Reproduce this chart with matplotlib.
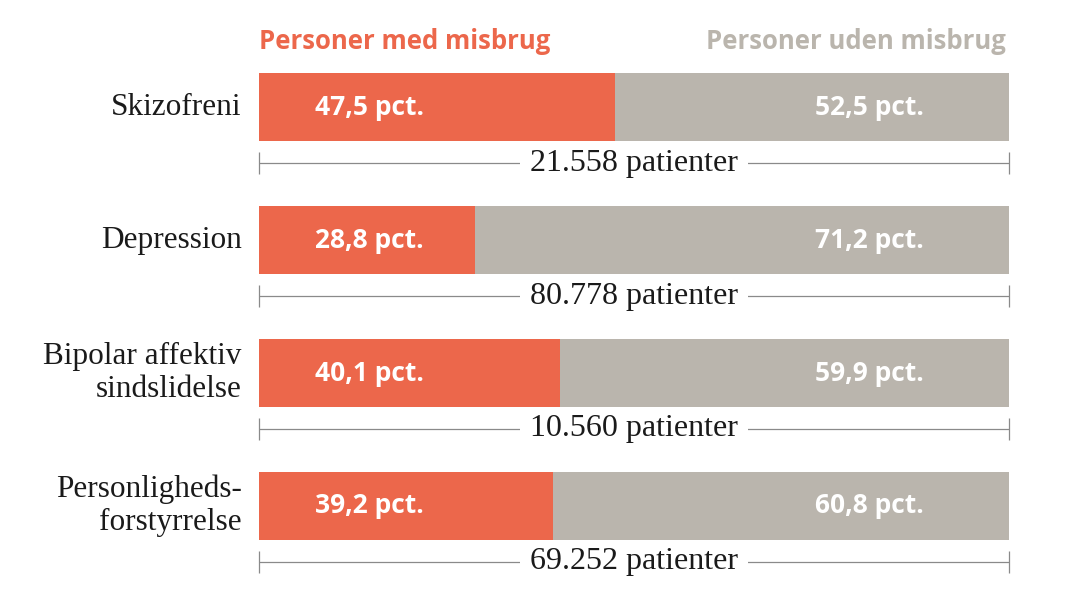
import matplotlib.pyplot as plt

categories = ['Skizofreni', 'Depression', 'Bipolar affektiv\nsindslidelse',
              'Personligheds-\nforstyrrelse']
with_abuse = [47.5, 28.8, 40.1, 39.2]
without_abuse = [52.5, 71.2, 59.9, 60.8]
patients = ['21.558', '80.778', '10.560', '69.252']

orange = '#EC674B'
grey = '#BAB5AD'
sans = ['Open Sans', 'DejaVu Sans']
serif = ['Liberation Serif', 'DejaVu Serif']

fig = plt.figure(figsize=(10.7, 6.0), dpi=100)
ax = fig.add_axes([259 / 1070, 0, 750 / 1070, 1])
ax.set_xlim(0, 100)
ax.set_ylim(3.707, -0.805)
ax.axis('off')

y = list(range(len(categories)))
ax.barh(y, with_abuse, height=0.51, color=orange, zorder=3)
ax.barh(y, without_abuse, left=with_abuse, height=0.51, color=grey, zorder=3)

for i in y:
    ax.text(7.5, i, f'{with_abuse[i]:.1f}'.replace('.', ',') + ' pct.',
            color='white', fontsize=19, fontweight='bold', family=sans,
            ha='left', va='center', zorder=4)
    ax.text(88.6, i, f'{without_abuse[i]:.1f}'.replace('.', ',') + ' pct.',
            color='white', fontsize=19, fontweight='bold', family=sans,
            ha='right', va='center', zorder=4)
    ax.text(-2.3, i, categories[i], fontsize=22.5, family=serif,
            ha='right', va='center', linespacing=1.2, color='#1a1a1a')
    yb = i + 0.421
    ax.hlines(yb, 0, 100, color='#8a8a8a', linewidth=0.9, clip_on=False,
              zorder=1)
    ax.vlines([0, 100], yb - 0.085, yb + 0.085, color='#8a8a8a',
              linewidth=0.9, clip_on=False, zorder=1)
    ax.text(50, yb, patients[i] + ' patienter', fontsize=23, family=serif,
            ha='center', va='center', color='#1a1a1a', zorder=2,
            bbox=dict(facecolor='white', edgecolor='none', pad=7))

ax.text(0, -0.49, 'Personer med misbrug', color=orange, fontsize=18.5,
        fontweight='bold', family=sans, ha='left', va='center')
ax.text(99.6, -0.49, 'Personer uden misbrug', color=grey, fontsize=18.5,
        fontweight='bold', family=sans, ha='right', va='center')

fig.savefig('out.png', dpi=100)
